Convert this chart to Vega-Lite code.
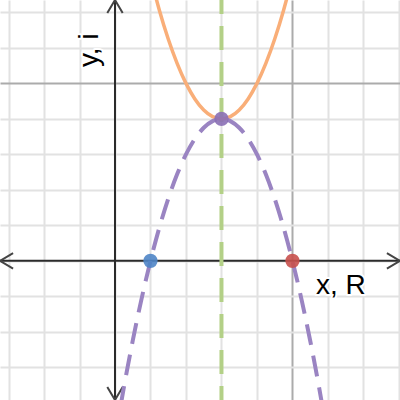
{
  "$schema": "https://vega.github.io/schema/vega-lite/v6.json",
  "description": "Two parabolas sharing a vertex, with the roots and the axis of symmetry marked.",
  "width": 400,
  "height": 400,
  "padding": 0,
  "autosize": {"type": "none"},
  "config": {"view": {"stroke": null}},
  "datasets": {
    "orange": [
      {"x": 1.0, "y": 8}, {"x": 1.25, "y": 7.0625}, {"x": 1.5, "y": 6.25},
      {"x": 1.75, "y": 5.5625}, {"x": 2.0, "y": 5}, {"x": 2.25, "y": 4.5625},
      {"x": 2.5, "y": 4.25}, {"x": 2.75, "y": 4.0625}, {"x": 3.0, "y": 4},
      {"x": 3.25, "y": 4.0625}, {"x": 3.5, "y": 4.25}, {"x": 3.75, "y": 4.5625},
      {"x": 4.0, "y": 5}, {"x": 4.25, "y": 5.5625}, {"x": 4.5, "y": 6.25},
      {"x": 4.75, "y": 7.0625}, {"x": 5.0, "y": 8}
    ],
    "purple": [
      {"x": 0, "y": -5}, {"x": 0.25, "y": -3.5625}, {"x": 0.5, "y": -2.25},
      {"x": 0.75, "y": -1.0625}, {"x": 1, "y": 0}, {"x": 1.25, "y": 0.9375},
      {"x": 1.5, "y": 1.75}, {"x": 1.75, "y": 2.4375}, {"x": 2, "y": 3},
      {"x": 2.25, "y": 3.4375}, {"x": 2.5, "y": 3.75}, {"x": 2.75, "y": 3.9375},
      {"x": 3, "y": 4}, {"x": 3.25, "y": 3.9375}, {"x": 3.5, "y": 3.75},
      {"x": 3.75, "y": 3.4375}, {"x": 4, "y": 3}, {"x": 4.25, "y": 2.4375},
      {"x": 4.5, "y": 1.75}, {"x": 4.75, "y": 0.9375}, {"x": 5, "y": 0},
      {"x": 5.25, "y": -1.0625}, {"x": 5.5, "y": -2.25}, {"x": 5.75, "y": -3.5625},
      {"x": 6, "y": -5}
    ],
    "points": [
      {"x": 1, "y": 0, "name": "root1"},
      {"x": 5, "y": 0, "name": "root2"},
      {"x": 3, "y": 4, "name": "vertex"}
    ]
  },
  "encoding": {
    "x": {
      "field": "x",
      "type": "quantitative",
      "scale": {"domain": [-3.24, 8.03], "nice": false, "zero": false},
      "axis": {
        "title": null,
        "domain": false,
        "ticks": false,
        "labels": false,
        "values": [-3, -2, -1, 0, 1, 2, 3, 4, 5, 6, 7, 8],
        "gridWidth": 2,
        "gridColor": {
          "condition": {"test": "datum.value === 5", "value": "#ababab"},
          "value": "#e2e2e2"
        }
      }
    },
    "y": {
      "field": "y",
      "type": "quantitative",
      "scale": {"domain": [-3.92, 7.35], "nice": false, "zero": false},
      "axis": {
        "title": null,
        "domain": false,
        "ticks": false,
        "labels": false,
        "values": [-3, -2, -1, 0, 1, 2, 3, 4, 5, 6, 7],
        "gridWidth": 2,
        "gridColor": {
          "condition": {"test": "datum.value === 5", "value": "#ababab"},
          "value": "#e2e2e2"
        }
      }
    }
  },
  "layer": [
    {
      "data": {"values": [{"y": 0}]},
      "mark": {"type": "rule", "color": "#2b2b2b", "strokeWidth": 2},
      "encoding": {"x": null}
    },
    {
      "data": {"values": [{"x": 0}]},
      "mark": {"type": "rule", "color": "#2b2b2b", "strokeWidth": 2},
      "encoding": {"y": null}
    },
    {
      "data": {"values": [{"x": 8.03, "y": 0}]},
      "mark": {"type": "point", "shape": "M-1.7,-1L0,0L-1.7,1", "filled": false, "size": 237, "stroke": "#444444", "strokeWidth": 2, "opacity": 1, "angle": 0}
    },
    {
      "data": {"values": [{"x": -3.24, "y": 0}]},
      "mark": {"type": "point", "shape": "M-1.7,-1L0,0L-1.7,1", "filled": false, "size": 237, "stroke": "#444444", "strokeWidth": 2, "opacity": 1, "angle": 180}
    },
    {
      "data": {"values": [{"x": 0, "y": 7.35}]},
      "mark": {"type": "point", "shape": "M-1.7,-1L0,0L-1.7,1", "filled": false, "size": 237, "stroke": "#444444", "strokeWidth": 2, "opacity": 1, "angle": 270}
    },
    {
      "data": {"values": [{"x": 0, "y": -3.92}]},
      "mark": {"type": "point", "shape": "M-1.7,-1L0,0L-1.7,1", "filled": false, "size": 237, "stroke": "#444444", "strokeWidth": 2, "opacity": 1, "angle": 90}
    },
    {
      "data": {"values": [{"x": 3}]},
      "mark": {"type": "rule", "color": "#b3d087", "strokeWidth": 4, "strokeDash": [24, 12], "strokeDashOffset": 10},
      "encoding": {"y": null}
    },
    {
      "data": {"name": "orange"},
      "mark": {"type": "line", "color": "#f9ae78", "strokeWidth": 3.5, "interpolate": "natural", "clip": true}
    },
    {
      "data": {"name": "purple"},
      "mark": {"type": "line", "color": "#9a84c2", "strokeWidth": 4, "strokeDash": [21, 11], "interpolate": "natural", "clip": true}
    },
    {
      "data": {"name": "points"},
      "mark": {"type": "circle", "size": 205, "opacity": 0.9},
      "encoding": {
        "color": {
          "field": "name",
          "type": "nominal",
          "scale": {"domain": ["root1", "root2", "vertex"], "range": ["#4f85c6", "#c8504c", "#8a6fb5"]},
          "legend": null
        }
      }
    },
    {
      "data": {"values": [{"x": 5.66, "y": -0.93, "label": "x, R"}]},
      "mark": {"type": "text", "align": "left", "baseline": "alphabetic", "font": "Liberation Sans", "fontSize": 28, "stroke": "white", "strokeWidth": 4, "strokeJoin": "round", "fill": "white"},
      "encoding": {"text": {"field": "label"}}
    },
    {
      "data": {"values": [{"x": 5.66, "y": -0.93, "label": "x, R"}]},
      "mark": {"type": "text", "align": "left", "baseline": "alphabetic", "font": "Liberation Sans", "fontSize": 28, "color": "black"},
      "encoding": {"text": {"field": "label"}}
    },
    {
      "data": {"values": [{"x": -0.48, "y": 5.46, "label": "y, i"}]},
      "mark": {"type": "text", "angle": 270, "align": "left", "baseline": "alphabetic", "font": "Liberation Sans", "fontSize": 28, "stroke": "white", "strokeWidth": 4, "strokeJoin": "round", "fill": "white"},
      "encoding": {"text": {"field": "label"}}
    },
    {
      "data": {"values": [{"x": -0.48, "y": 5.46, "label": "y, i"}]},
      "mark": {"type": "text", "angle": 270, "align": "left", "baseline": "alphabetic", "font": "Liberation Sans", "fontSize": 28, "color": "black"},
      "encoding": {"text": {"field": "label"}}
    }
  ]
}
